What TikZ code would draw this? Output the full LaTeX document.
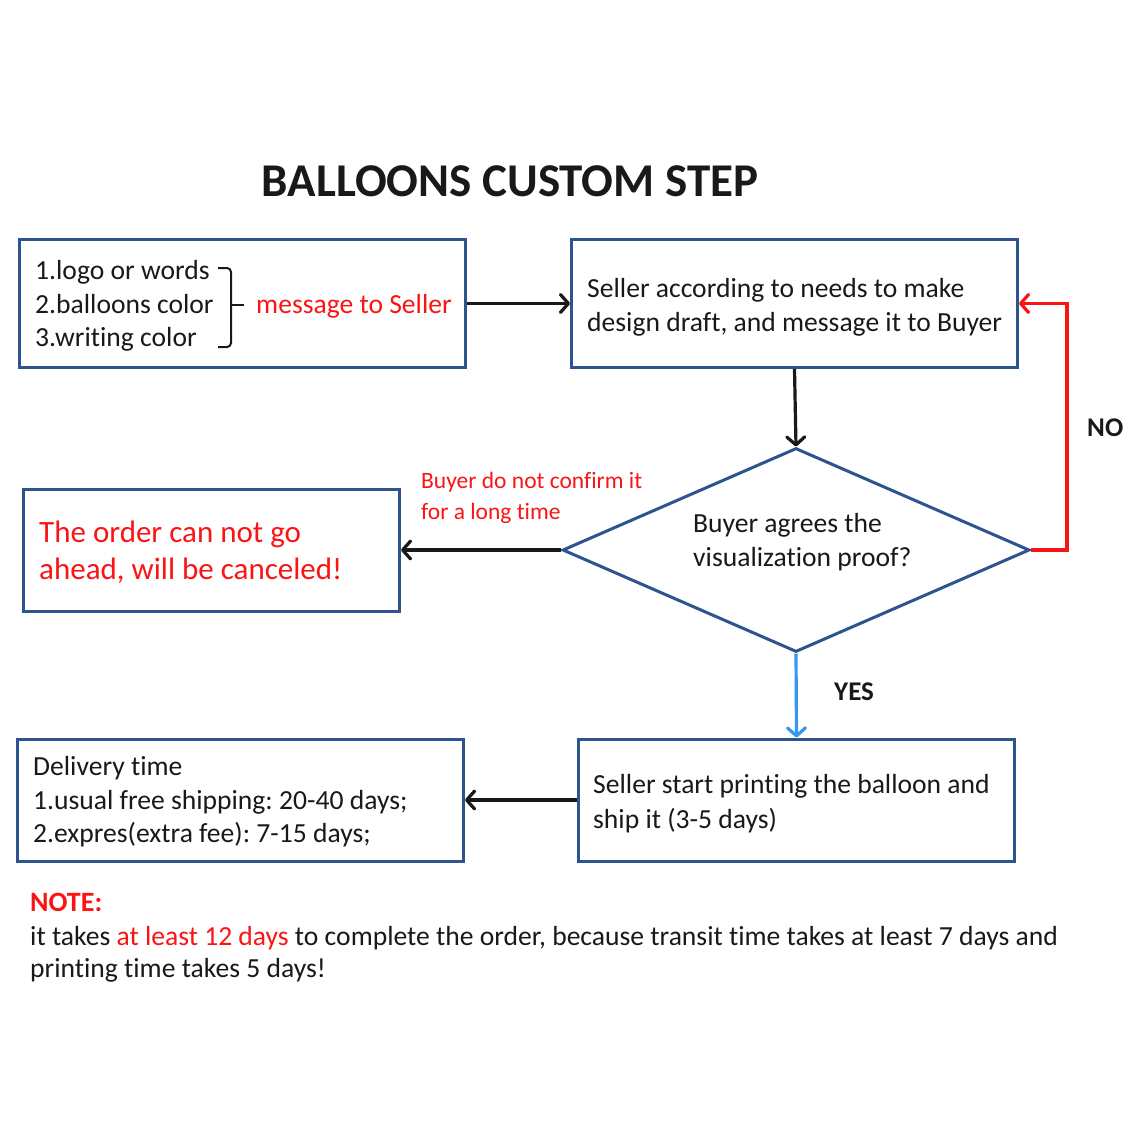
\documentclass[tikz,border=0pt]{standalone}
\usepackage{fontspec}
\setmainfont{Carlito}[RawFeature=-liga]
\frenchspacing
\usetikzlibrary{arrows.meta,shapes.geometric}
\definecolor{bxblue}{RGB}{46,84,143}
\definecolor{rd}{RGB}{250,20,20}
\definecolor{lb}{RGB}{55,150,240}
\definecolor{ink}{RGB}{25,25,25}
\begin{document}
\begin{tikzpicture}[x=1pt,y=-1pt,
  box/.style={draw=bxblue,line width=3pt,rectangle,inner sep=0pt,fill=white},
  txt/.style={anchor=base west,inner sep=0pt,text=ink,font=\fontsize{27.6}{32}\selectfont},
  redtxt/.style={txt,text=rd},
  conn/.style={line width=3.2pt,-{Straight Barb[length=8pt,width=18pt,line cap=round,line join=round]}},
]
\useasboundingbox[fill=white] (0,0) rectangle (1140,1140);

\node[anchor=base,inner sep=0pt,text=ink,font=\fontsize{47}{54}\selectfont\bfseries] (title) at (510,196) {BALLOONS CUSTOM STEP};

% boxes
\node[box,minimum width=446pt,minimum height=128pt] (b1) at (242.5,303.5) {};
\node[box,minimum width=446pt,minimum height=128pt] (b2) at (794.5,303.5) {};
\node[draw=bxblue,line width=3pt,diamond,inner sep=0pt,minimum width=467pt,minimum height=204pt,fill=white] (dm) at (796,550) {};
\node[box,minimum width=376pt,minimum height=122pt] (b3) at (211.5,550) {};
\node[box,minimum width=446pt,minimum height=122pt] (b4) at (240.5,800) {};
\node[box,minimum width=436pt,minimum height=122pt] (b5) at (796.5,800) {};

% box 1 text
\node[txt] (t11) at (35,279) {1.logo or words};
\node[txt] (t12) at (35,313) {2.balloons color};
\node[txt] (t13) at (35,346) {3.writing color};
\draw[line width=2pt,ink,rounded corners=4pt] (218,268) -- (231,268) -- (231,347) -- (218,347);
\draw[line width=2pt,ink] (231,305) -- (244,305);
\node[redtxt] (t14) at (256,313) {message to Seller};

% box 2 text
\node[txt] (t21) at (587,297) {Seller according to needs to make};
\node[txt] (t22) at (587,331) {design draft, and message it to Buyer};

% diamond text
\node[txt] (d1) at (693,532) {Buyer agrees the};
\node[txt] (d2) at (693,566) {visualization proof?};

% red label
\node[redtxt,font=\fontsize{23.5}{28}\selectfont] (r1) at (421,488) {Buyer do not confirm it};
\node[redtxt,font=\fontsize{23.5}{28}\selectfont] (r2) at (421,519) {for a long time};

% box 3 text
\node[redtxt,font=\fontsize{31}{36}\selectfont] (t31) at (39,542) {The order can not go};
\node[redtxt,font=\fontsize{31}{36}\selectfont] (t32) at (39,579) {ahead, will be canceled!};

% box 4 text
\node[txt] (t41) at (33,775) {Delivery time};
\node[txt] (t42) at (33,809) {1.usual free shipping: 20-40 days;};
\node[txt] (t43) at (33,842) {2.expres(extra fee): 7-15 days;};

% box 5 text
\node[txt] (t51) at (593,793) {Seller start printing the balloon and};
\node[txt] (t52) at (593,828) {ship it (3-5 days)};

% labels
\node[txt,font=\fontsize{27}{32}\selectfont\bfseries] (no) at (1087,436) {NO};
\node[txt,font=\fontsize{27}{32}\selectfont\bfseries] (yes) at (834,700) {YES};

% note
\node[txt,text=rd,font=\fontsize{28}{32}\selectfont\bfseries] (n0) at (30,911) {NOTE:};
\node[txt] (n1) at (30,945) {it takes \textcolor{rd}{at least 12 days} to complete the order, because transit time takes at least 7 days and};
\node[txt] (n2) at (30,977) {printing time takes 5 days!};

% connectors
\draw[conn,ink] (b1.east) -- (b2.west);
\draw[conn,ink] (b2.south) -- (dm.north);
\draw[conn,ink] (dm.west) -- (b3.east);
\draw[conn,rd] (dm.east) -- ++(36,0) |- (b2.east);
\draw[conn,lb] (dm.south) -- (b5.north);
\draw[conn,ink] (b5.west) -- (b4.east);
\end{tikzpicture}
\end{document}
